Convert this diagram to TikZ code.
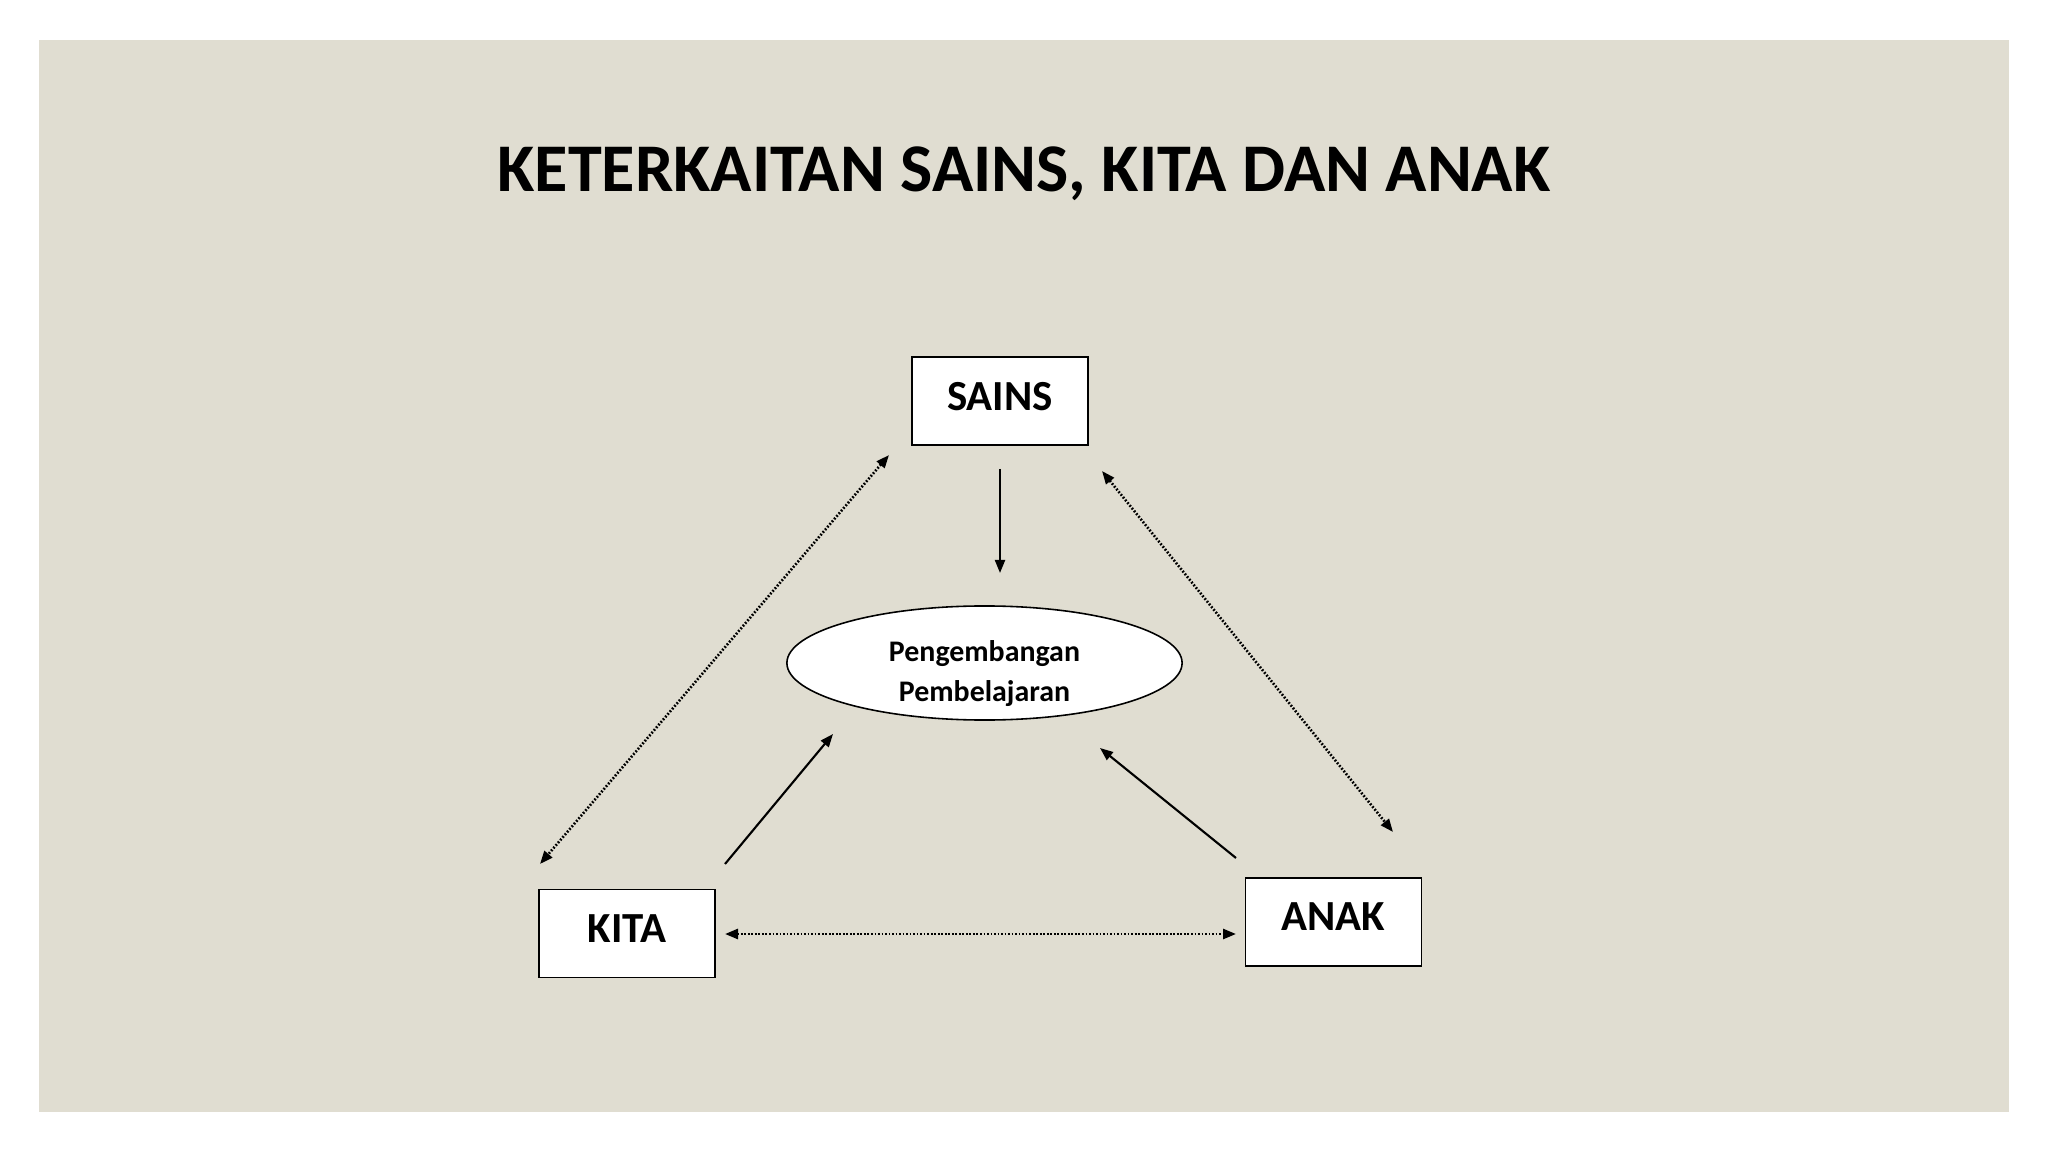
\documentclass[tikz,border=0pt]{standalone}
\usepackage{fontspec}
\setmainfont{Carlito}
\usetikzlibrary{arrows.meta,shapes.geometric}
\definecolor{slidebg}{HTML}{E0DDD1}
\begin{document}
\begin{tikzpicture}[x=0.01cm,y=-0.01cm,
  box/.style={draw=black,fill=white,line width=0.45pt,minimum width=1.76cm,minimum height=0.88cm,inner sep=0pt},
  boxlbl/.style={font=\fontsize{12.2}{14}\selectfont\bfseries,inner sep=0pt},
  elltxt/.style={font=\fontsize{8.5}{10}\selectfont\bfseries,inner sep=0pt,anchor=base},
  solidarrow/.style={line width=0.6pt,-{Triangle[length=0.13cm,width=0.1cm]}},
  dotarrow/.style={line width=0.75pt,dash pattern=on 0.5pt off 0.5pt,{Triangle[length=0.13cm,width=0.1cm]}-{Triangle[length=0.13cm,width=0.1cm]}}
]
\useasboundingbox (0,0) rectangle (2048,1152);
\fill[white] (0,0) rectangle (2048,1152);
\fill[slidebg] (39,40) rectangle (2009,1112);

\node[font=\fontsize{19.4}{24}\selectfont\bfseries,anchor=base,inner sep=0pt] (title) at (1024,192) {KETERKAITAN SAINS, KITA DAN ANAK};

\node[box] (sains) at (1000,401) {};
\node[boxlbl] (sainslbl) at ([yshift=0.045cm]sains.center) {SAINS};
\node[box] (kita) at (627,933.5) {};
\node[boxlbl] (kitalbl) at ([yshift=0.05cm]kita.center) {KITA};
\node[box] (anak) at (1333.5,922) {};
\node[boxlbl] (anaklbl) at ([yshift=0.05cm]anak.center) {ANAK};

\node[ellipse,draw=black,fill=white,line width=0.45pt,minimum width=3.95cm,minimum height=1.14cm,inner sep=0pt] (ell) at (984.5,663) {};
\node[elltxt] (e1) at (984.5,662) {Pengembangan};
\node[elltxt] (e2) at (984.5,702) {Pembelajaran};

% connector endpoints
\coordinate (sa1) at (1000,469);
\coordinate (sa2) at (1000,573);
\coordinate (ki1) at (725,864);
\coordinate (ki2) at (833,734);
\coordinate (an1) at (1236,858);
\coordinate (an2) at (1100,748);
\coordinate (dl1) at (889,455);
\coordinate (dl2) at (540,864);
\coordinate (dr1) at (1102,471);
\coordinate (dr2) at (1393,832);
\coordinate (dh1) at (725,934);
\coordinate (dh2) at (1236,934);

\draw[solidarrow] (sa1) -- (sa2);
\draw[solidarrow] (ki1) -- (ki2);
\draw[solidarrow] (an1) -- (an2);
\draw[dotarrow] (dl1) -- (dl2);
\draw[dotarrow] (dr1) -- (dr2);
\draw[dotarrow] (dh1) -- (dh2);
\end{tikzpicture}
\end{document}
